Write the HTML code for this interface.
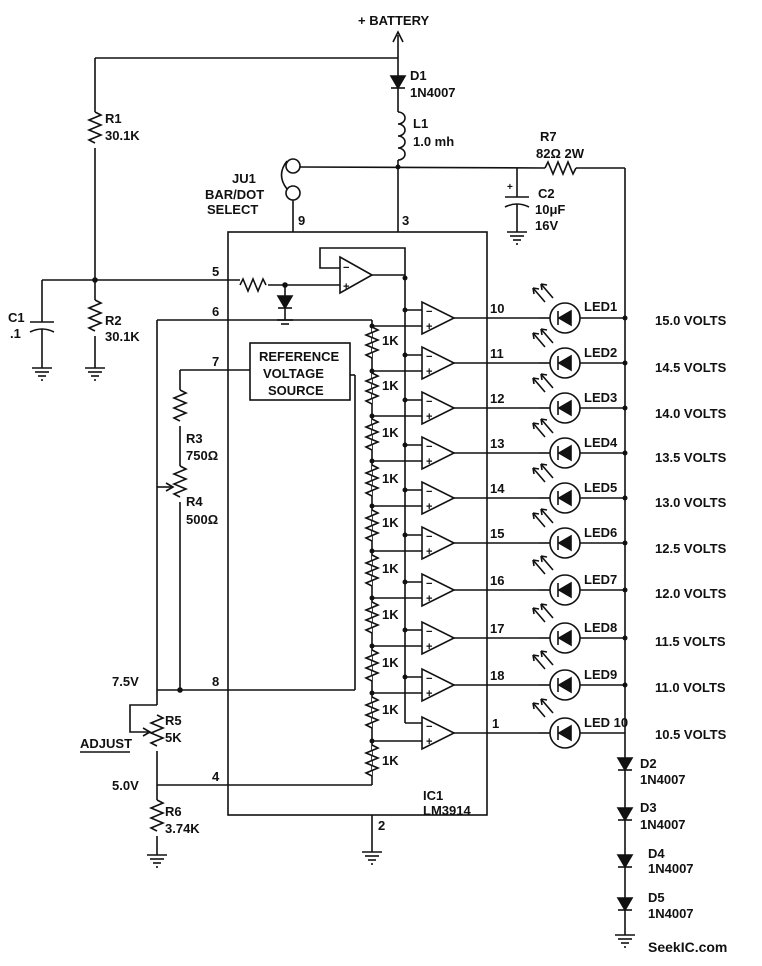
<!DOCTYPE html>
<html><head><style>
body{margin:0;background:#fff}
svg{display:block}
text{font-family:"Liberation Sans",sans-serif;font-size:13px;font-weight:bold;fill:#111}
.s{font-size:11px}
</style></head><body>
<svg width="762" height="966" viewBox="0 0 762 966" stroke="#111" stroke-width="1.6" fill="none">
<defs>
<g id="gnd"><line x1="-10" y1="0" x2="10" y2="0"/><line x1="-7" y1="4" x2="7" y2="4"/><line x1="-4" y1="8" x2="4" y2="8"/><line x1="-1" y1="12" x2="1" y2="12"/></g>
<path id="rv" d="M0 0 l6 3 l-12 5 l12 5 l-12 5 l12 5 l-12 5 l6 3"/>
<g id="dd"><path d="M-7 0 L7 0 L0 12 Z" fill="#111"/><line x1="-7" y1="12" x2="7" y2="12"/></g>
<g id="cmp"><path d="M0 -16 L0 16 L32 0 Z"/><text x="4" y="-3" stroke="none" class="s">−</text><text x="4" y="12" stroke="none" class="s">+</text></g>
<g id="led"><circle cx="0" cy="0" r="15"/><path d="M6 -7 L6 7 L-6 0 Z" fill="#111"/><line x1="-7" y1="-7" x2="-7" y2="7"/><line x1="-15" y1="0" x2="-26" y2="0"/><line x1="15" y1="0" x2="60" y2="0"/>
<path d="M-20 -16 L-32 -30 M-12 -20 L-24 -34"/><path d="M-32 -30 l1 6 M-32 -30 l6 1 M-24 -34 l1 6 M-24 -34 l6 1"/></g>
</defs>
<!-- battery -->
<text x="358" y="25" stroke="none">+ BATTERY</text>
<line x1="398" y1="35" x2="398" y2="76"/><path d="M393 42 L398 32 L403 42"/>
<line x1="95" y1="58" x2="398" y2="58"/>
<use href="#dd" x="398" y="76"/>
<line x1="398" y1="88" x2="398" y2="112"/>
<text x="410" y="80" stroke="none">D1</text><text x="410" y="97" stroke="none">1N4007</text>
<path d="M398 112 a7 6 0 0 1 0 12 a7 6 0 0 1 0 12 a7 6 0 0 1 0 12 a7 6 0 0 1 0 12"/>
<text x="413" y="128" stroke="none">L1</text><text x="413" y="146" stroke="none">1.0 mh</text>
<line x1="398" y1="160" x2="398" y2="232"/>
<line x1="300" y1="167" x2="545" y2="168"/>
<circle cx="398" cy="167" r="2.5" fill="#111" stroke="none"/>
<path d="M545 168 l3 -6 l5 12 l5 -12 l5 12 l5 -12 l5 12 l3 -6"/>
<line x1="576" y1="168" x2="625" y2="168"/>
<text x="540" y="141" stroke="none">R7</text><text x="536" y="158" stroke="none">82Ω 2W</text>
<line x1="517" y1="168" x2="517" y2="197"/><line x1="505" y1="197" x2="529" y2="197"/><path d="M505 207 Q517 201 529 207"/><line x1="517" y1="204" x2="517" y2="232"/>
<text x="507" y="190" stroke="none" style="font-size:10px">+</text>
<use href="#gnd" x="517" y="232"/>
<text x="538" y="198" stroke="none">C2</text><text x="535" y="214" stroke="none">10μF</text><text x="535" y="230" stroke="none">16V</text>
<!-- JU1 -->
<circle cx="293" cy="166" r="7"/><circle cx="293" cy="193" r="7"/>
<path d="M287 161 Q276 175 287 189"/>
<line x1="293" y1="200" x2="293" y2="232"/>
<text x="232" y="183" stroke="none">JU1</text><text x="205" y="199" stroke="none">BAR/DOT</text><text x="207" y="214" stroke="none">SELECT</text>
<text x="298" y="225" stroke="none">9</text><text x="402" y="225" stroke="none">3</text>
<!-- IC box -->
<rect x="228" y="232" width="259" height="583"/>
<text x="423" y="800" stroke="none">IC1</text><text x="423" y="815" stroke="none">LM3914</text>
<!-- R1 R2 C1 -->
<line x1="95" y1="58" x2="95" y2="112"/><use href="#rv" x="95" y="112"/><line x1="95" y1="148" x2="95" y2="300"/>
<text x="105" y="123" stroke="none">R1</text><text x="105" y="140" stroke="none">30.1K</text>
<line x1="42" y1="280" x2="240" y2="280"/><circle cx="95" cy="280" r="2" fill="#111"/>
<use href="#rv" x="95" y="300"/><line x1="95" y1="336" x2="95" y2="368"/><use href="#gnd" x="95" y="368"/>
<text x="105" y="325" stroke="none">R2</text><text x="105" y="341" stroke="none">30.1K</text>
<line x1="42" y1="280" x2="42" y2="322"/><line x1="30" y1="322" x2="54" y2="322"/><path d="M30 332 Q42 326 54 332"/><line x1="42" y1="329" x2="42" y2="368"/><use href="#gnd" x="42" y="368"/>
<text x="8" y="322" stroke="none">C1</text><text x="10" y="338" stroke="none">.1</text>
<text x="212" y="276" stroke="none">5</text>
<!-- internal top -->
<path d="M240 285 l3 -6 l5 12 l5 -12 l5 12 l5 -12 l3 6"/>
<line x1="268" y1="285" x2="340" y2="285"/><circle cx="285" cy="285" r="2" fill="#111"/>
<line x1="285" y1="285" x2="285" y2="296"/><use href="#dd" x="285" y="296"/><line x1="285" y1="308" x2="285" y2="320"/>
<line x1="277" y1="320" x2="293" y2="320"/><line x1="281" y1="324" x2="289" y2="324"/>
<path d="M340 257 L340 293 L372 275 Z"/><text x="343" y="271" stroke="none" style="font-size:11px">−</text><text x="343" y="290" stroke="none" style="font-size:11px">+</text>
<path d="M340 268 L320 268 L320 248 L405 248 L405 278"/><line x1="372" y1="275" x2="405" y2="275"/>
<!-- pin6 -->
<line x1="157" y1="320" x2="372" y2="320"/><text x="212" y="316" stroke="none">6</text>
<line x1="157" y1="320" x2="157" y2="705"/>
<!-- ref box -->
<rect x="250" y="343" width="100" height="57"/>
<text x="259" y="361" stroke="none">REFERENCE</text><text x="263" y="378" stroke="none">VOLTAGE</text><text x="268" y="395" stroke="none">SOURCE</text>
<line x1="180" y1="370" x2="250" y2="370"/><text x="212" y="366" stroke="none">7</text>
<line x1="180" y1="370" x2="180" y2="390"/><use href="#rv" x="180" y="390"/><line x1="180" y1="426" x2="180" y2="466"/>
<text x="186" y="443" stroke="none">R3</text><text x="186" y="460" stroke="none">750Ω</text>
<use href="#rv" x="180" y="466"/><line x1="180" y1="502" x2="180" y2="690"/>
<line x1="157" y1="487" x2="172" y2="487"/><path d="M166 483 L173 487 L166 491"/>
<text x="186" y="506" stroke="none">R4</text><text x="186" y="524" stroke="none">500Ω</text>
<line x1="157" y1="690" x2="355" y2="690"/><line x1="355" y1="690" x2="355" y2="375"/><line x1="350" y1="375" x2="355" y2="375"/>
<circle cx="180" cy="690" r="2" fill="#111"/><text x="212" y="686" stroke="none">8</text>
<text x="112" y="686" stroke="none">7.5V</text>
<!-- R5 -->
<path d="M157 705 L130 705 L130 732 L148 732"/><path d="M143 728 L150 732 L143 736"/>
<use href="#rv" x="157" y="715"/><line x1="157" y1="751" x2="157" y2="800"/>
<text x="165" y="725" stroke="none">R5</text><text x="165" y="742" stroke="none">5K</text>
<text x="80" y="748" stroke="none">ADJUST</text><line x1="80" y1="752" x2="130" y2="752"/>
<line x1="157" y1="785" x2="372" y2="785"/><text x="212" y="781" stroke="none">4</text>
<text x="112" y="790" stroke="none">5.0V</text>
<use href="#rv" x="157" y="800"/><line x1="157" y1="836" x2="157" y2="855"/><use href="#gnd" x="157" y="855"/>
<text x="165" y="816" stroke="none">R6</text><text x="165" y="833" stroke="none">3.74K</text>
<line x1="372" y1="815" x2="372" y2="852"/><use href="#gnd" x="372" y="852"/><text x="378" y="830" stroke="none">2</text>
<!-- ladder -->
<line x1="372" y1="320" x2="372" y2="785"/>
<g fill="#fff">
<use href="#rv" x="372" y="327"/><use href="#rv" x="372" y="373"/><use href="#rv" x="372" y="419"/><use href="#rv" x="372" y="465"/><use href="#rv" x="372" y="510"/><use href="#rv" x="372" y="555"/><use href="#rv" x="372" y="602"/><use href="#rv" x="372" y="650"/><use href="#rv" x="372" y="697"/><use href="#rv" x="372" y="745"/>
</g>
<g stroke="none">
<text x="382" y="345">1K</text><text x="382" y="390">1K</text><text x="382" y="437">1K</text><text x="382" y="483">1K</text><text x="382" y="527">1K</text><text x="382" y="573">1K</text><text x="382" y="619">1K</text><text x="382" y="667">1K</text><text x="382" y="714">1K</text><text x="382" y="765">1K</text>
</g>
<line x1="405" y1="278" x2="405" y2="723"/><line x1="405" y1="723" x2="422" y2="723"/>
<g>
<use href="#cmp" x="422" y="318"/><use href="#cmp" x="422" y="363"/><use href="#cmp" x="422" y="408"/><use href="#cmp" x="422" y="453"/><use href="#cmp" x="422" y="498"/><use href="#cmp" x="422" y="543"/><use href="#cmp" x="422" y="590"/><use href="#cmp" x="422" y="638"/><use href="#cmp" x="422" y="685"/><use href="#cmp" x="422" y="733"/>
</g>
<g stroke-width="1.4">
<path d="M405 310 H422 M372 326 H422 M405 355 H422 M372 371 H422 M405 400 H422 M372 416 H422 M405 445 H422 M372 461 H422 M405 490 H422 M372 506 H422 M405 535 H422 M372 551 H422 M405 582 H422 M372 598 H422 M405 630 H422 M372 646 H422 M405 677 H422 M372 693 H422 M372 741 H422"/>
</g>
<g fill="#111" stroke="none">
<circle cx="405" cy="310" r="2.5"/><circle cx="405" cy="355" r="2.5"/><circle cx="405" cy="400" r="2.5"/><circle cx="405" cy="445" r="2.5"/><circle cx="405" cy="490" r="2.5"/><circle cx="405" cy="535" r="2.5"/><circle cx="405" cy="582" r="2.5"/><circle cx="405" cy="630" r="2.5"/><circle cx="405" cy="677" r="2.5"/><circle cx="405" cy="278" r="2.5"/>
<circle cx="372" cy="326" r="2.5"/><circle cx="372" cy="371" r="2.5"/><circle cx="372" cy="416" r="2.5"/><circle cx="372" cy="461" r="2.5"/><circle cx="372" cy="506" r="2.5"/><circle cx="372" cy="551" r="2.5"/><circle cx="372" cy="598" r="2.5"/><circle cx="372" cy="646" r="2.5"/><circle cx="372" cy="693" r="2.5"/><circle cx="372" cy="741" r="2.5"/>
<circle cx="625" cy="318" r="2.5"/><circle cx="625" cy="363" r="2.5"/><circle cx="625" cy="408" r="2.5"/><circle cx="625" cy="453" r="2.5"/><circle cx="625" cy="498" r="2.5"/><circle cx="625" cy="543" r="2.5"/><circle cx="625" cy="590" r="2.5"/><circle cx="625" cy="638" r="2.5"/><circle cx="625" cy="685" r="2.5"/>
</g>
<!-- outputs -->
<path d="M454 318 H539 M454 363 H539 M454 408 H539 M454 453 H539 M454 498 H539 M454 543 H539 M454 590 H539 M454 638 H539 M454 685 H539 M454 733 H539"/>
<g stroke="none">
<text x="490" y="313">10</text><text x="490" y="358">11</text><text x="490" y="403">12</text><text x="490" y="448">13</text><text x="490" y="493">14</text><text x="490" y="538">15</text><text x="490" y="585">16</text><text x="490" y="633">17</text><text x="490" y="680">18</text><text x="492" y="728">1</text>
</g>
<use href="#led" x="565" y="318"/><use href="#led" x="565" y="363"/><use href="#led" x="565" y="408"/><use href="#led" x="565" y="453"/><use href="#led" x="565" y="498"/><use href="#led" x="565" y="543"/><use href="#led" x="565" y="590"/><use href="#led" x="565" y="638"/><use href="#led" x="565" y="685"/><use href="#led" x="565" y="733"/>
<g stroke="none">
<text x="584" y="311">LED1</text><text x="584" y="357">LED2</text><text x="584" y="402">LED3</text><text x="584" y="447">LED4</text><text x="584" y="492">LED5</text><text x="584" y="537">LED6</text><text x="584" y="584">LED7</text><text x="584" y="632">LED8</text><text x="584" y="679">LED9</text><text x="584" y="727">LED 10</text>
<text x="655" y="325">15.0 VOLTS</text><text x="655" y="372">14.5 VOLTS</text><text x="655" y="418">14.0 VOLTS</text><text x="655" y="462">13.5 VOLTS</text><text x="655" y="507">13.0 VOLTS</text><text x="655" y="553">12.5 VOLTS</text><text x="655" y="598">12.0 VOLTS</text><text x="655" y="646">11.5 VOLTS</text><text x="655" y="692">11.0 VOLTS</text><text x="655" y="739">10.5 VOLTS</text>
</g>
<!-- right rail and diodes -->
<line x1="625" y1="168" x2="625" y2="935"/>
<g fill="#fff"><use href="#dd" x="625" y="758"/><use href="#dd" x="625" y="808"/><use href="#dd" x="625" y="855"/><use href="#dd" x="625" y="898"/></g>
<use href="#gnd" x="625" y="935"/>
<g stroke="none">
<text x="640" y="768">D2</text><text x="640" y="784">1N4007</text>
<text x="640" y="812">D3</text><text x="640" y="829">1N4007</text>
<text x="648" y="858">D4</text><text x="648" y="873">1N4007</text>
<text x="648" y="902">D5</text><text x="648" y="918">1N4007</text>
<text x="648" y="952" style="font-size:14px">SeekIC.com</text>
</g>
</svg>
</body></html>
